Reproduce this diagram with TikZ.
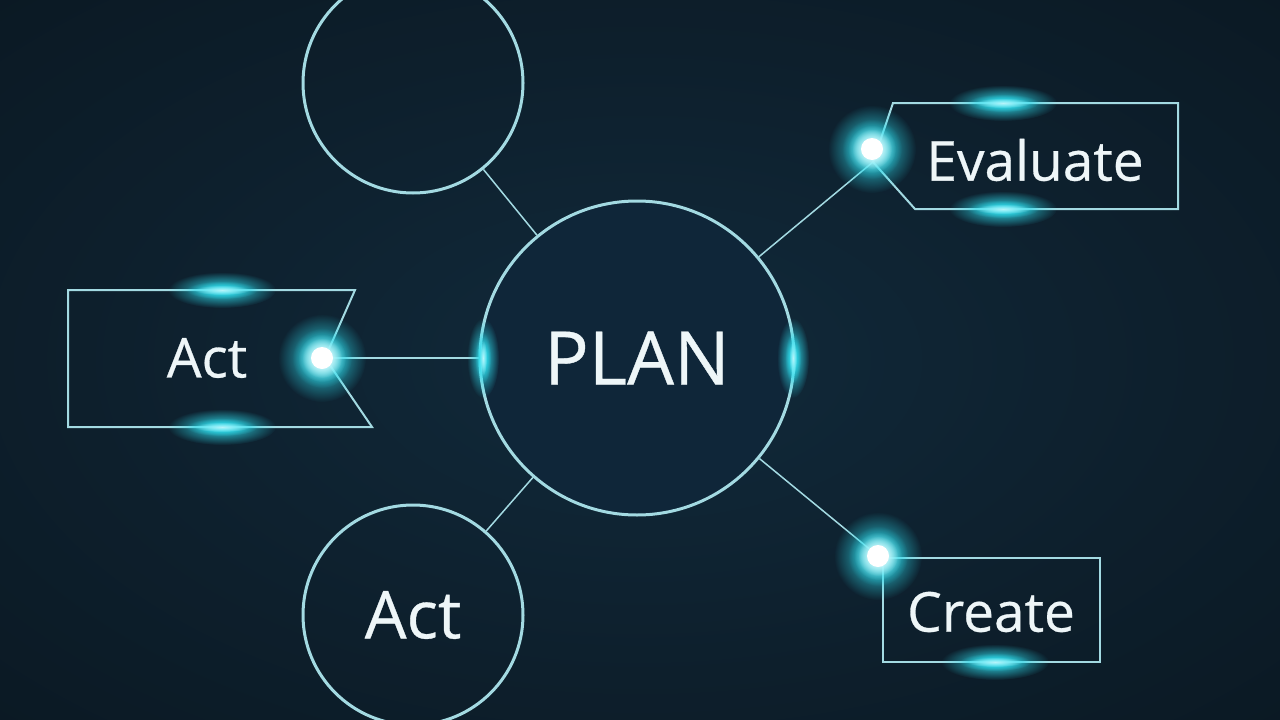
\documentclass[tikz,border=0pt]{standalone}
\usepackage{fontspec}
\setmainfont{Open Sans}[FakeBold=0.5]
\usetikzlibrary{fadings}
\definecolor{bgc}{HTML}{112A3B}
\definecolor{bgmid}{HTML}{0D1F2C}
\definecolor{bgout}{HTML}{09131B}
\definecolor{linec}{HTML}{A3DAE2}
\definecolor{glowc}{HTML}{2FE0F0}
\definecolor{textc}{HTML}{EEF6F8}
\definecolor{planfill}{HTML}{0F2639}
\pgfdeclareradialshading{bgshade}{\pgfpoint{0bp}{0bp}}{color(0bp)=(bgc); color(22bp)=(bgmid); color(50bp)=(bgout); color(75bp)=(bgout)}
\tikzfading[name=softglow, inner color=transparent!0, outer color=transparent!100]
\tikzset{
  ring/.style={circle, draw=linec, line width=3pt, inner sep=0pt, text=textc},
  frame/.style={draw=linec, line width=2pt, line join=miter},
  link/.style={draw=linec, line width=1.5pt},
  txt/.style={text=textc, inner sep=0pt, font=\fontsize{55}{60}\selectfont},
  pics/dotglow/.style={code={
    \fill[glowc, path fading=softglow] (0,0) circle (44);
    \fill[glowc, path fading=softglow] (0,0) circle (30);
    \fill[glowc!40!white, path fading=softglow] (0,0) circle (24);
    \fill[white, path fading=softglow] (0,0) circle (20);
    \fill[white] (0,0) circle (11);
  }},
  pics/hglow/.style={code={
    \fill[glowc, path fading=softglow] (0,0) ellipse (54 and 18);
    \fill[glowc, path fading=softglow] (0,0) ellipse (36 and 9);
    \fill[glowc!35!white, path fading=softglow] (0,0) ellipse (28 and 5);
  }},
  pics/vglow/.style={code={
    \fill[glowc, path fading=softglow] (0,0) ellipse (16 and 40);
    \fill[glowc, path fading=softglow] (0,0) ellipse (8 and 26);
    \fill[glowc!35!white, path fading=softglow] (0,0) ellipse (4 and 18);
  }},
}
\begin{document}
\begin{tikzpicture}[x=1pt,y=-1pt]
\useasboundingbox (0,0) rectangle (1280,720);
\clip (0,0) rectangle (1280,720);
\shade[shading=bgshade] (0,0) rectangle (1280,720);

% circles
\node[ring, fill=planfill, minimum size=314pt, font=\fontsize{74}{80}\selectfont] (plan) at (637,358) {PLAN};
\node[ring, minimum size=220pt] (topc) at (413,83) {};
\node[ring, minimum size=220pt, font=\fontsize{66}{70}\selectfont] (botc) at (413,615) {Act};

% Evaluate box
\coordinate (e1) at (893,103);
\coordinate (e2) at (1178,103);
\coordinate (e3) at (1178,209);
\coordinate (e4) at (915,209);
\coordinate (ev) at (873,162);
\coordinate (evdot) at (872,149);
\draw[frame] (ev) -- (e1) -- (e2) -- (e3) -- (e4) -- cycle;
\node[txt] (evtext) at (1035,160) {Evaluate};

% Act box
\coordinate (a1) at (68,290);
\coordinate (a2) at (355,290);
\coordinate (a3) at (325,358);
\coordinate (a4) at (372,427);
\coordinate (a5) at (68,427);
\coordinate (actdot) at (322,358);
\draw[frame] (a1) -- (a2) -- (a3) -- (a4) -- (a5) -- cycle;
\node[txt] (acttext) at (207,358) {Act};

% Create box
\coordinate (c1) at (883,558);
\coordinate (c2) at (1100,662);
\coordinate (crdot) at (878,556);
\draw[frame] (c1) rectangle (c2);
\node[txt] (crtext) at (991,612) {Create};

% connectors
\draw[link] (topc) -- (plan);
\draw[link] (botc) -- (plan);
\draw[link] (plan) -- (ev);
\draw[link] (plan) -- (crdot);
\draw[link] (actdot) -- (plan);

% glows
\pic at (evdot) {dotglow};
\pic at (actdot) {dotglow};
\pic at (crdot) {dotglow};
\pic at (1003,103) {hglow};
\pic at (1003,209) {hglow};
\pic at (222,290) {hglow};
\pic at (222,427) {hglow};
\pic at (995,662) {hglow};
\pic at (483,358) {vglow};
\pic at (793,358) {vglow};
\end{tikzpicture}
\end{document}
